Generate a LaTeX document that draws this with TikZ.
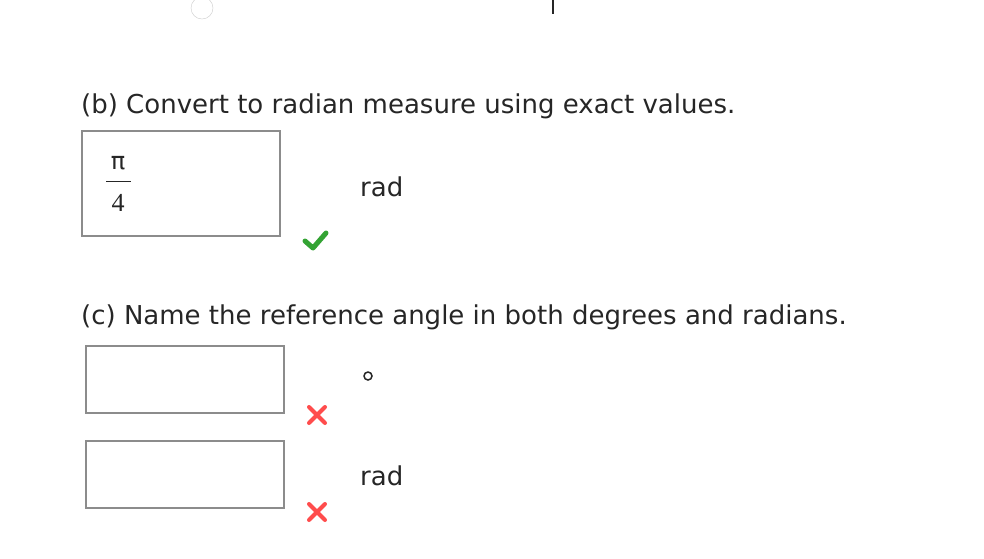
\documentclass[tikz,border=0pt]{standalone}
\usepackage{fontspec}
\setmainfont{DejaVu Sans}
\newfontfamily\serifnum{Liberation Serif}
\begin{document}
\begin{tikzpicture}[x=1pt,y=-1pt,
  txt/.style={anchor=west,inner sep=0pt,font=\fontsize{26}{30}\selectfont,text=black!85},
  abox/.style={draw=black!45,line width=1.2pt},
  okmark/.style={draw=green!55!black!80,line width=5pt,line cap=round,line join=round},
  nomark/.style={draw=red!70!white,line width=4pt,line cap=round}]
\useasboundingbox (0,0) rectangle (984,558);
\fill[white] (0,0) rectangle (984,558);
\node[draw=black!20,circle,minimum size=22pt,inner sep=0pt] (radio) at (202,8) {};
\coordinate (barT) at (553,0); \coordinate (barB) at (553,14);
\draw[line width=1.5pt,black!85] (barT) -- (barB);
\node[txt] (qb) at (81,106) {(b) Convert to radian measure using exact values.};
\draw[abox] (82,131) rectangle (280,236);
\node[inner sep=0pt,font=\fontsize{24}{28}\selectfont,text=black!85] (pi) at (118,163) {π};
\draw[black!85,line width=1pt] (106,181) -- (131,181);
\node[inner sep=0pt,font=\fontsize{26}{28}\serifnum,text=black!85] (four) at (118,203) {4};
\node[txt] (rad1) at (360,187) {rad};
\draw[okmark] (305,241) -- (313,248) -- (326,233);
\node[txt] (qc) at (81,317) {(c) Name the reference angle in both degrees and radians.};
\draw[abox] (86,346) rectangle (284,413);
\draw[black!85,line width=1.5pt] (368,376) circle (4);
\draw[nomark] (309,407) -- (325,423) (325,407) -- (309,423);
\draw[abox] (86,441) rectangle (284,508);
\node[txt] (rad2) at (360,476) {rad};
\draw[nomark] (309,504) -- (325,520) (325,504) -- (309,520);
\end{tikzpicture}
\end{document}
